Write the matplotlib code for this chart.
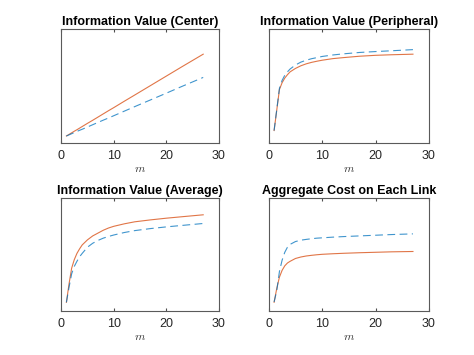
#
# Four panels: information value and link cost versus m
#

import numpy as np
import matplotlib.pyplot as plt

plt.rcParams['font.family'] = ['Liberation Sans', 'DejaVu Sans']
plt.rcParams['mathtext.fontset'] = 'cm'

# m values used for every curve
m = [1, 1.5, 2, 2.5, 3, 3.5, 4, 5, 6, 7, 8, 9, 10, 12, 14, 17, 20, 23, 27]

# Information value (center)
center_solid = [0.062, 0.076, 0.09, 0.104, 0.117, 0.131, 0.145, 0.173, 0.20, 0.228, 0.256,
                0.284, 0.311, 0.367, 0.422, 0.505, 0.588, 0.671, 0.78]
center_dash = [0.062, 0.072, 0.082, 0.092, 0.102, 0.112, 0.121, 0.141, 0.161, 0.181, 0.201,
               0.22, 0.24, 0.28, 0.32, 0.379, 0.438, 0.498, 0.576]

# Information value (peripheral)
periph_solid = [0.11, 0.29, 0.47, 0.53, 0.57, 0.60, 0.625, 0.655, 0.678, 0.695, 0.708,
                0.718, 0.727, 0.741, 0.75, 0.762, 0.77, 0.775, 0.78]
periph_dash = [0.11, 0.295, 0.48, 0.55, 0.595, 0.625, 0.65, 0.685, 0.71, 0.727, 0.74,
               0.75, 0.76, 0.773, 0.783, 0.795, 0.803, 0.81, 0.82]

# Information value (average)
avg_solid = [0.077, 0.24, 0.38, 0.455, 0.51, 0.55, 0.585, 0.63, 0.665, 0.69, 0.715,
             0.735, 0.75, 0.772, 0.79, 0.807, 0.822, 0.835, 0.852]
avg_dash = [0.077, 0.21, 0.33, 0.395, 0.44, 0.48, 0.51, 0.565, 0.60, 0.625, 0.645,
            0.66, 0.673, 0.695, 0.712, 0.73, 0.745, 0.758, 0.775]

# Aggregate cost on each link
cost_solid = [0.077, 0.20, 0.30, 0.36, 0.40, 0.425, 0.44, 0.465, 0.478, 0.487, 0.493,
              0.498, 0.502, 0.507, 0.511, 0.516, 0.52, 0.524, 0.527]
cost_dash = [0.08, 0.18, 0.35, 0.45, 0.52, 0.565, 0.59, 0.615, 0.627, 0.634, 0.64,
             0.645, 0.648, 0.654, 0.659, 0.665, 0.671, 0.677, 0.683]

titles = ["Information Value (Center)", "Information Value (Peripheral)",
          "Information Value (Average)", "Aggregate Cost on Each Link"]
solid = [center_solid, periph_solid, avg_solid, cost_solid]
dash = [center_dash, periph_dash, avg_dash, cost_dash]

# axes boxes in figure fractions
boxes = [[0.129, 0.597, 0.333, 0.321], [0.567, 0.597, 0.338, 0.321],
         [0.129, 0.124, 0.333, 0.318], [0.567, 0.124, 0.338, 0.318]]

fig = plt.figure(figsize=(4.74, 3.55), dpi=100)

for i in range(4):
    ax = fig.add_axes(boxes[i])
    ax.plot(m, solid[i], color="#D95319", lw=0.8, alpha=0.8)
    ax.plot(m, dash[i], color="#0072BD", lw=0.8, alpha=0.75, dashes=(7, 4))
    ax.set_xlim(0, 30)
    ax.set_ylim(0, 1)
    ax.set_xticks([0, 10, 20, 30])
    ax.set_yticks([])
    ax.tick_params(axis="x", direction="in", length=2.5, top=True,
                   color="#4d4d4d", labelcolor="#262626", labelsize=9, pad=5)
    for s in ax.spines.values():
        s.set_color("#5a5a5a")
        s.set_linewidth(0.8)
    ax.set_title(titles[i], fontsize=9, fontweight="bold", pad=3)
    ax.set_xlabel("$m$", fontsize=8.5, labelpad=1, color="#333333")

plt.savefig("out.png", dpi=100)
